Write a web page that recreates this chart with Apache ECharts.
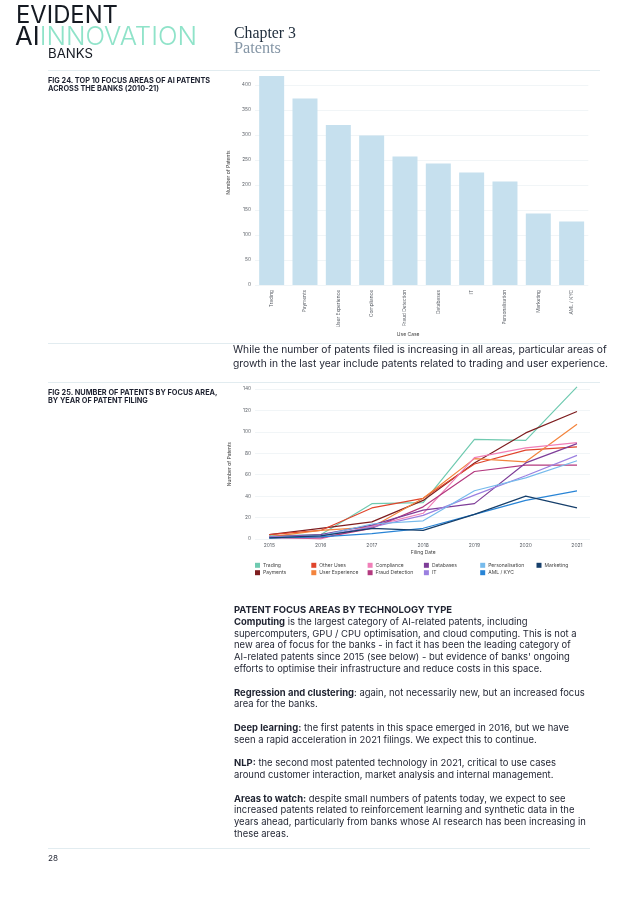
<!DOCTYPE html>
<html><head><meta charset="utf-8">
<script src="https://cdn.jsdelivr.net/npm/echarts/dist/echarts.min.js"></script>
<style>
html,body{margin:0;padding:0;background:#fff;}
#page{position:relative;width:638px;height:902px;overflow:hidden;font-family:Inter,"Noto Sans",sans-serif;color:#1e2230;}
#chart{position:absolute;left:0;top:0;width:638px;height:902px;}
.t{position:absolute;white-space:nowrap;line-height:1;}
.hr{position:absolute;height:1px;background:#e2ecf0;}
.serif{font-family:"Liberation Serif","DejaVu Serif",serif;}
b{font-weight:700;}
</style></head>
<body><div id="page">
<div id="chart"></div>
<div class="hr" style="left:48px;top:70px;width:552px"></div>
<div class="hr" style="left:48px;top:343px;width:552px"></div>
<div class="hr" style="left:48px;top:382px;width:552px"></div>
<div class="hr" style="left:48px;top:848px;width:542px"></div>

<div class="t" data-g="h1" data-x="16" data-y="15" data-w="102" style="font-weight:400;color:#151a22">EVIDENT</div>
<div class="t" data-g="h2" data-x="15" data-y="35.5" data-w="182" style="font-weight:300"><span style="color:#151a22;font-weight:400">AI</span><span style="color:#8fe3c9">INNOVATION</span></div>
<div class="t" data-g="h3" data-x="48" data-y="53.5" data-w="45" style="font-weight:400;color:#151a22">BANKS</div>
<div class="t serif" data-g="h4" data-x="234" data-y="33" data-w="62" style="color:#1d2b3a">Chapter 3</div>
<div class="t serif" data-g="h5" data-x="234" data-y="48.5" data-w="47" style="color:#8596a6">Patents</div>

<div class="t" data-g="fig" data-x="48" data-y="81" data-w="163" style="font-weight:700">FIG 24. TOP 10 FOCUS AREAS OF AI PATENTS</div>
<div class="t" data-g="fig" data-x="48" data-y="89" data-w="109" style="font-weight:700">ACROSS THE BANKS (2010-21)</div>
<div class="t" data-g="fig" data-x="48" data-y="393" data-w="169" style="font-weight:700">FIG 25. NUMBER OF PATENTS BY FOCUS AREA,</div>
<div class="t" data-g="fig" data-x="48" data-y="401" data-w="100" style="font-weight:700">BY YEAR OF PATENT FILING</div>

<div class="t" data-g="lead" data-x="233" data-y="349.5" data-w="374">While the number of patents filed is increasing in all areas, particular areas of</div>
<div class="t" data-g="lead" data-x="233" data-y="363.5" data-w="374">growth in the last year include patents related to trading and user experience.</div>

<div class="t" data-g="body" data-x="234" data-y="610" data-w="213"><b>PATENT FOCUS AREAS BY TECHNOLOGY TYPE</b></div>
<div class="t" data-g="body" data-x="234" data-y="621.7" data-w="296"><b>Computing</b> is the largest category of AI-related patents, including</div>
<div class="t" data-g="body" data-x="234" data-y="633.3" data-w="345">supercomputers, GPU / CPU optimisation, and cloud computing. This is not a</div>
<div class="t" data-g="body" data-x="234" data-y="645" data-w="334">new area of focus for the banks - in fact it has been the leading category of</div>
<div class="t" data-g="body" data-x="234" data-y="656.7" data-w="332">AI-related patents since 2015 (see below) - but evidence of banks' ongoing</div>
<div class="t" data-g="body" data-x="234" data-y="668.3" data-w="309">efforts to optimise their infrastructure and reduce costs in this space.</div>
<div class="t" data-g="body" data-x="234" data-y="692.7" data-w="352"><b>Regression and clustering</b>: again, not necessarily new, but an increased focus</div>
<div class="t" data-g="body" data-x="234" data-y="704" data-w="83">area for the banks.</div>
<div class="t" data-g="body" data-x="234" data-y="727.3" data-w="336"><b>Deep learning:</b> the first patents in this space emerged in 2016, but we have</div>
<div class="t" data-g="body" data-x="234" data-y="739.3" data-w="301">seen a rapid acceleration in 2021 filings. We expect this to continue.</div>
<div class="t" data-g="body" data-x="234" data-y="762.7" data-w="323"><b>NLP:</b> the second most patented technology in 2021, critical to use cases</div>
<div class="t" data-g="body" data-x="234" data-y="774.3" data-w="320">around customer interaction, market analysis and internal management.</div>
<div class="t" data-g="body" data-x="234" data-y="798.3" data-w="332"><b>Areas to watch:</b> despite small numbers of patents today, we expect to see</div>
<div class="t" data-g="body" data-x="234" data-y="810" data-w="342">increased patents related to reinforcement learning and synthetic data in the</div>
<div class="t" data-g="body" data-x="234" data-y="821.7" data-w="347">years ahead, particularly from banks whose AI research has been increasing in</div>
<div class="t" data-g="body" data-x="234" data-y="833.3" data-w="54">these areas.</div>

<div class="t" data-g="pg" data-x="48" data-y="858" data-w="10">28</div>
</div>
<script>
// ---- Figure 24 data ----
const useCases = ['Trading','Payments','User Experience','Compliance','Fraud Detection','Databases','IT','Personalisation','Marketing','AML / KYC'];
const patentCounts = [418,373,320,299,257,243,225,207,143,127];
const barTicks = {min:0, max:450, interval:50};

// ---- Figure 25 data ----
const years = ['2015','2016','2017','2018','2019','2020','2021'];
const trading         = [3, 4, 33, 34, 93, 92, 142];
const payments        = [4, 10, 16, 36, 71, 99, 119];
const otherUses       = [4, 8, 29, 38, 70, 83, 86];
const userExperience  = [2, 8, 11, 38, 75, 72, 107];
const compliance      = [2, 0, 12, 24, 76, 85, 90];
const fraudDetection  = [1, 1, 10, 30, 63, 69, 69];
const databases       = [2, 4, 13, 27, 33, 71, 89];
const itArea          = [2, 3, 11, 22, 41, 59, 78];
const personalisation = [1, 3, 14, 17, 45, 57, 73];
const amlKyc          = [1, 2, 5, 10, 23, 36, 45];
const marketing       = [1, 3, 10, 8, 23, 40, 29];
const lineTicks = {min:0, max:140, interval:20};

const seriesNames = ['Trading','Payments','Other Uses','User Experience','Compliance','Fraud Detection','Databases','IT','Personalisation','AML / KYC','Marketing'];
const seriesData  = [trading,payments,otherUses,userExperience,compliance,fraudDetection,databases,itArea,personalisation,amlKyc,marketing];
const seriesColors = ['#6fcab0','#7e1d1f','#e0452c','#f3843d','#f07fb8','#b3397f','#7e3d98','#9b80e0','#77bbec','#2884d6','#163f6b'];
const legendColumns = [['Trading','Payments'],['Other Uses','User Experience'],['Compliance','Fraud Detection'],['Databases','IT'],['Personalisation','AML / KYC'],['Marketing']];

function fitTexts(){
  const els=[...document.querySelectorAll('.t')];
  const groups={};
  els.forEach(el=>{
    el.style.fontSize='20px';
    const w=el.getBoundingClientRect().width;
    el._fs=20*parseFloat(el.dataset.w)/w;
    (groups[el.dataset.g]=groups[el.dataset.g]||[]).push(el);
  });
  Object.values(groups).forEach(list=>{
    const arr=list.map(e=>e._fs).sort((a,b)=>a-b);
    const med=arr[Math.floor(arr.length/2)];
    list.forEach(el=>{
      el.style.fontSize=med+'px';
      el.style.left=el.dataset.x+'px';
      el.style.top=(parseFloat(el.dataset.y)-med*0.5)+'px';
    });
  });
}
fitTexts();

const FONT='Inter';
const axisLabelColor='#5a5f66';
const gridLineColor='#edf2f5';
const barSplitColors=[];
for(let v=barTicks.min; v<=barTicks.max; v+=barTicks.interval){ barSplitColors.push(v<barTicks.max?gridLineColor:'rgba(0,0,0,0)'); }

const chart=echarts.init(document.getElementById('chart'));
const legends = legendColumns.map((col,i)=>({
  data: col, orient:'vertical', left: 255 + i*56.3, top: 562.8,
  itemWidth:5, itemHeight:5, itemGap:2.4, padding:0, icon:'rect', selectedMode:false,
  textStyle:{fontSize:5, color:'#444', fontFamily:FONT, padding:[0,0,0,-2]}
}));

const option={
  animation:false,
  textStyle:{fontFamily:FONT},
  grid:[
    {left:255, top:60, width:333.3, height:225},
    {left:269.3, top:389, width:307.7, height:150},
    {left:255, top:389, width:335, height:150}
  ],
  legend: legends,
  xAxis:[
    {gridIndex:0, type:'category', data:useCases, axisLine:{show:false}, axisTick:{show:false},
     axisLabel:{rotate:90, interval:0, fontSize:4.8, color:axisLabelColor, margin:5, fontFamily:FONT},
     name:'Use Case', nameLocation:'middle', nameGap:47, nameTextStyle:{fontSize:5, color:'#444', padding:[0,27,0,0], fontFamily:FONT}},
    {gridIndex:1, type:'category', data:years, boundaryGap:false, axisLine:{show:false}, axisTick:{show:false},
     axisLabel:{fontSize:5, color:axisLabelColor, margin:4, fontFamily:FONT},
     name:'Filing Date', nameLocation:'middle', nameGap:11, nameTextStyle:{fontSize:5, color:'#444', fontFamily:FONT}},
    {gridIndex:2, type:'value', show:false}
  ],
  yAxis:[
    {gridIndex:0, type:'value', min:barTicks.min, max:barTicks.max, interval:barTicks.interval,
     axisLine:{show:false}, axisTick:{show:false},
     axisLabel:{fontSize:4.8, color:axisLabelColor, margin:4, showMaxLabel:false, fontFamily:FONT},
     splitLine:{lineStyle:{color:barSplitColors, width:0.8}},
     name:'Number of Patents', nameLocation:'middle', nameGap:16, nameTextStyle:{fontSize:5, color:'#444', fontFamily:FONT}},
    {gridIndex:1, type:'value', min:lineTicks.min, max:lineTicks.max, interval:lineTicks.interval, show:false},
    {gridIndex:2, type:'value', min:lineTicks.min, max:lineTicks.max, interval:lineTicks.interval,
     axisLine:{show:false}, axisTick:{show:false},
     axisLabel:{fontSize:4.8, color:axisLabelColor, margin:4, fontFamily:FONT},
     splitLine:{lineStyle:{color:gridLineColor, width:0.8}},
     name:'Number of Patents', nameLocation:'middle', nameGap:17, nameTextStyle:{fontSize:5, color:'#444', fontFamily:FONT}}
  ],
  series:[
    {type:'bar', xAxisIndex:0, yAxisIndex:0, data:patentCounts, barCategoryGap:'25%',
     itemStyle:{color:'#c6e0ee'}}
  ].concat(seriesNames.map((n,i)=>({
    name:n, type:'line', xAxisIndex:1, yAxisIndex:1, data:seriesData[i], symbol:'none', clip:false,
    lineStyle:{width:1.2, color:seriesColors[i]}, itemStyle:{color:seriesColors[i]}
  })))
};
chart.setOption(option);
</script>
</body></html>
